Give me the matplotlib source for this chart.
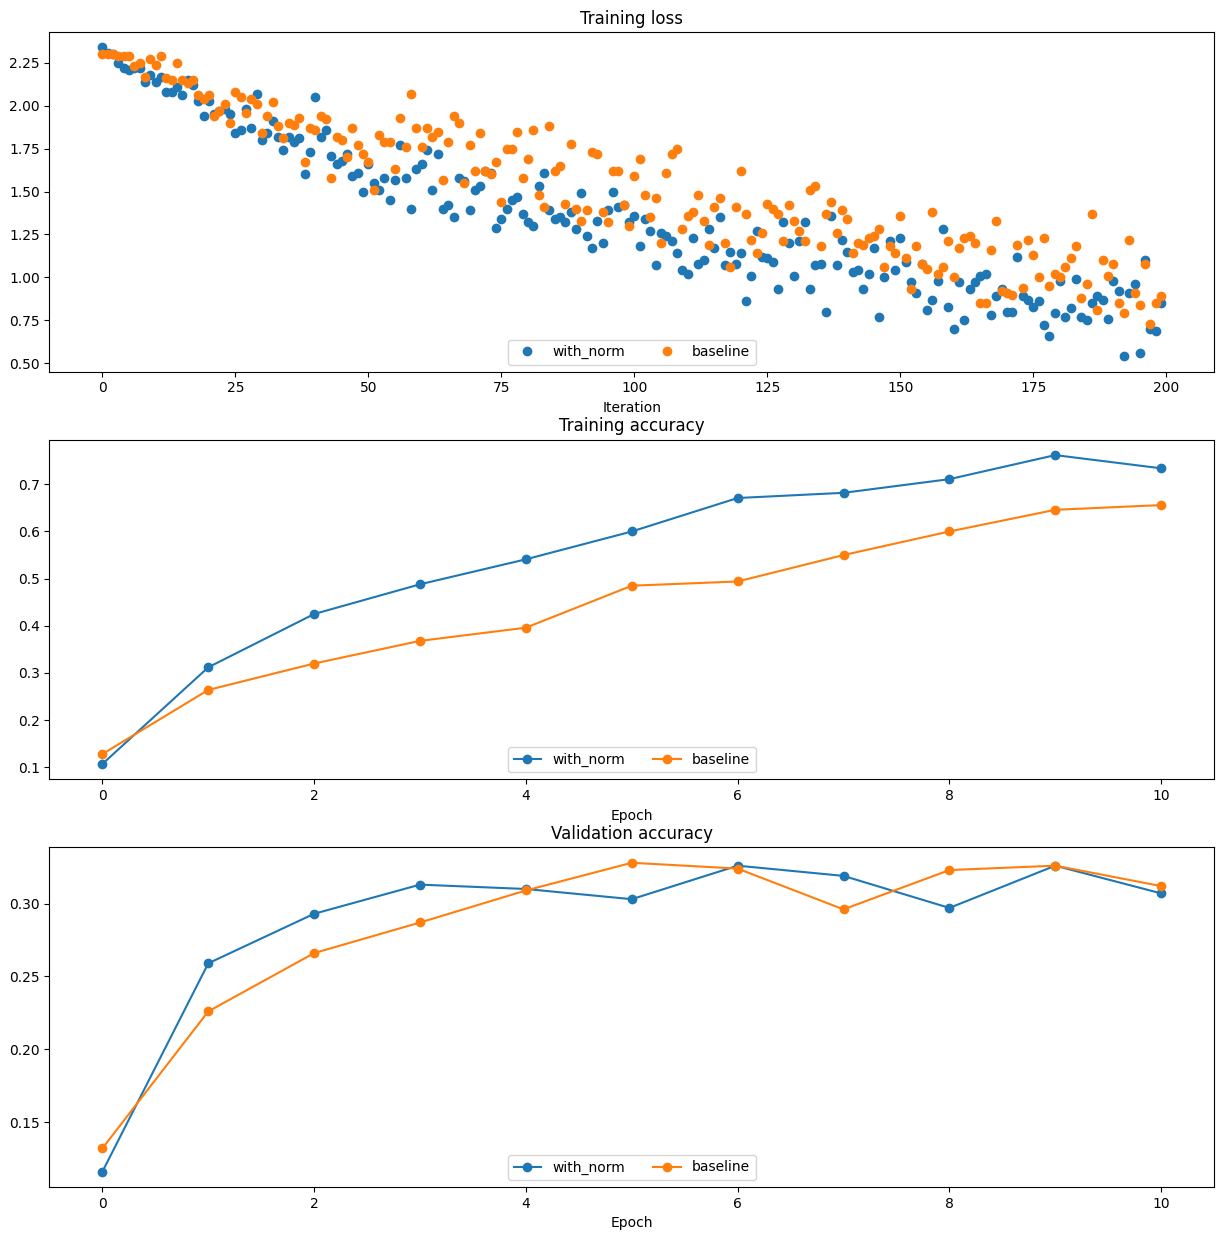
import matplotlib
matplotlib.use('Agg')
import matplotlib.pyplot as plt
import numpy as np

# training loss per iteration
loss_with_norm = [
    2.34, 2.31, 2.30, 2.25, 2.22, 2.21, 2.22, 2.22, 2.14, 2.18,
    2.14, 2.17, 2.08, 2.08, 2.11, 2.06, 2.15, 2.12, 2.03, 1.94,
    2.03, 1.95, 1.97, 1.98, 1.95, 1.84, 1.86, 1.98, 1.87, 2.07,
    1.80, 1.84, 1.91, 1.82, 1.74, 1.82, 1.79, 1.81, 1.60, 1.73,
    2.05, 1.82, 1.86, 1.71, 1.66, 1.68, 1.72, 1.59, 1.61, 1.50,
    1.66, 1.55, 1.51, 1.58, 1.45, 1.57, 1.77, 1.58, 1.40, 1.63,
    1.66, 1.74, 1.51, 1.72, 1.40, 1.42, 1.35, 1.58, 1.56, 1.39,
    1.51, 1.53, 1.62, 1.61, 1.29, 1.34, 1.40, 1.45, 1.47, 1.37,
    1.32, 1.30, 1.53, 1.61, 1.39, 1.34, 1.35, 1.32, 1.38, 1.28,
    1.49, 1.24, 1.17, 1.33, 1.20, 1.39, 1.50, 1.41, 1.42, 1.32,
    1.36, 1.18, 1.34, 1.27, 1.07, 1.26, 1.24, 1.21, 1.14, 1.04,
    1.02, 1.23, 1.08, 1.10, 1.28, 1.17, 1.35, 1.07, 1.15, 1.08,
    1.14, 0.86, 1.01, 1.27, 1.12, 1.11, 1.09, 0.93, 1.32, 1.20,
    1.01, 1.21, 1.32, 0.93, 1.07, 1.08, 0.80, 1.36, 1.07, 1.22,
    1.15, 1.03, 1.04, 0.93, 1.02, 1.17, 0.77, 1.00, 1.21, 1.04,
    1.23, 1.09, 0.97, 0.91, 1.08, 0.81, 0.87, 0.98, 1.28, 0.83,
    0.70, 0.97, 0.75, 0.93, 0.97, 1.01, 1.02, 0.78, 0.89, 0.93,
    0.80, 0.80, 1.12, 0.89, 0.87, 0.83, 0.86, 0.72, 0.66, 0.79,
    0.98, 0.77, 0.82, 0.99, 0.77, 0.75, 0.85, 0.89, 0.87, 0.76,
    0.98, 0.92, 0.54, 0.91, 0.96, 0.56, 1.10, 0.70, 0.69, 0.85,
]
loss_baseline = [
    2.30, 2.30, 2.30, 2.29, 2.29, 2.29, 2.23, 2.25, 2.17, 2.27,
    2.24, 2.29, 2.16, 2.15, 2.25, 2.15, 2.13, 2.15, 2.06, 2.04,
    2.06, 1.94, 1.97, 2.01, 1.90, 2.08, 2.05, 1.96, 2.04, 2.01,
    1.84, 1.94, 2.02, 1.88, 1.81, 1.90, 1.89, 1.93, 1.67, 1.87,
    1.86, 1.94, 1.92, 1.58, 1.82, 1.80, 1.70, 1.87, 1.77, 1.72,
    1.67, 1.51, 1.83, 1.79, 1.79, 1.63, 1.93, 1.76, 2.07, 1.87,
    1.76, 1.87, 1.82, 1.85, 1.57, 1.79, 1.94, 1.90, 1.55, 1.77,
    1.62, 1.84, 1.62, 1.60, 1.67, 1.44, 1.75, 1.75, 1.85, 1.58,
    1.69, 1.86, 1.48, 1.41, 1.88, 1.62, 1.65, 1.43, 1.78, 1.40,
    1.33, 1.39, 1.73, 1.72, 1.38, 1.32, 1.62, 1.62, 1.42, 1.30,
    1.59, 1.69, 1.48, 1.35, 1.46, 1.20, 1.61, 1.72, 1.75, 1.28,
    1.36, 1.38, 1.48, 1.33, 1.19, 1.41, 1.46, 1.20, 1.06, 1.41,
    1.62, 1.37, 1.22, 1.14, 1.26, 1.43, 1.40, 1.37, 1.21, 1.42,
    1.33, 1.27, 1.21, 1.51, 1.53, 1.18, 1.37, 1.44, 1.26, 1.39,
    1.34, 1.14, 1.20, 1.19, 1.23, 1.24, 1.28, 1.06, 1.18, 1.14,
    1.36, 1.11, 0.93, 1.18, 1.08, 1.05, 1.38, 1.02, 1.06, 1.21,
    1.00, 1.17, 1.23, 1.24, 1.20, 0.85, 0.85, 1.16, 1.33, 0.92,
    0.91, 0.90, 1.19, 0.94, 1.22, 1.13, 1.00, 1.23, 0.95, 1.02,
    1.00, 1.06, 1.11, 1.18, 0.88, 0.96, 1.37, 0.81, 1.10, 1.01,
    1.08, 0.85, 0.79, 1.22, 0.91, 0.84, 1.08, 0.73, 0.85, 0.89,
]

# accuracy per epoch
train_acc_with_norm = [0.107, 0.312, 0.425, 0.488, 0.541, 0.600, 0.671, 0.682, 0.711, 0.762, 0.734]
train_acc_baseline = [0.128, 0.264, 0.320, 0.368, 0.396, 0.485, 0.494, 0.550, 0.600, 0.646, 0.656]
val_acc_with_norm = [0.116, 0.259, 0.293, 0.313, 0.310, 0.303, 0.326, 0.319, 0.297, 0.326, 0.307]
val_acc_baseline = [0.132, 0.226, 0.266, 0.287, 0.309, 0.328, 0.324, 0.296, 0.323, 0.326, 0.312]

labels = ['with_norm', 'baseline']

fig = plt.figure(figsize=(12.22, 12.4), dpi=100)
fig.subplots_adjust(left=0.0405, right=0.9935, top=0.9742, bottom=0.0427, hspace=0.2)

plt.subplot(3, 1, 1)
plt.title('Training loss')
plt.xlabel('Iteration')
plt.plot(loss_with_norm, 'o', label=labels[0])
plt.plot(loss_baseline, 'o', label=labels[1])
plt.legend(loc='lower center', ncol=2)

plt.subplot(3, 1, 2)
plt.title('Training accuracy')
plt.xlabel('Epoch')
plt.plot(train_acc_with_norm, '-o', label=labels[0])
plt.plot(train_acc_baseline, '-o', label=labels[1])
plt.legend(loc='lower center', ncol=2)

plt.subplot(3, 1, 3)
plt.title('Validation accuracy')
plt.xlabel('Epoch')
plt.plot(val_acc_with_norm, '-o', label=labels[0])
plt.plot(val_acc_baseline, '-o', label=labels[1])
plt.legend(loc='lower center', ncol=2)

plt.savefig('out.png')
